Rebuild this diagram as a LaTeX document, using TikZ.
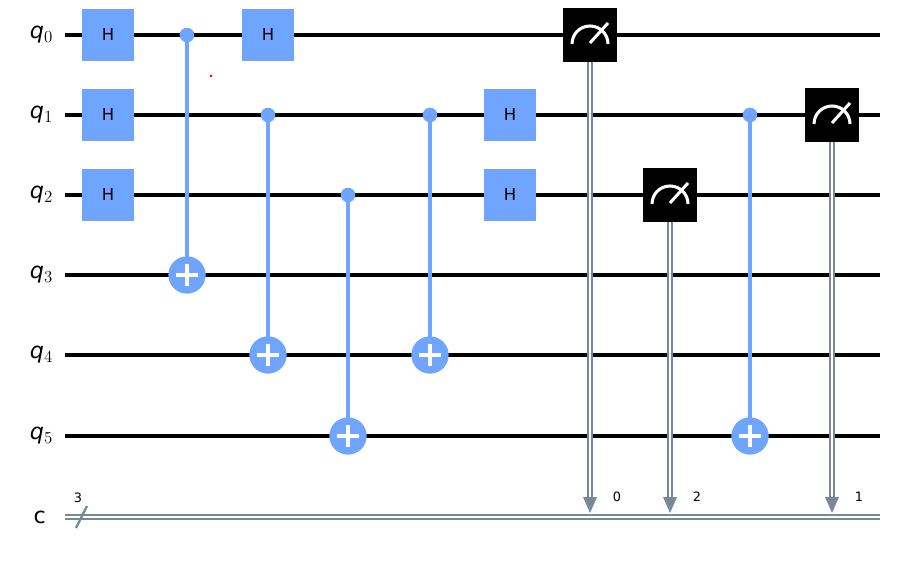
\documentclass[tikz,border=0pt]{standalone}
\usepackage{fontspec}
\setmainfont{DejaVu Sans}
\usetikzlibrary{positioning}
\definecolor{gateblue}{HTML}{6FA4FF}
\definecolor{cgrey}{HTML}{778899}
\tikzstyle{qwire} = [black, line width=2.6pt]
\tikzstyle{hgate} = [fill=gateblue, rectangle, minimum size=1.56cm,
    inner sep=0pt, font=\fontsize{14}{14}\selectfont]
\tikzstyle{meas} = [fill=black, rectangle, minimum size=1.64cm, inner sep=0pt]
\tikzstyle{ctrl} = [fill=gateblue, circle, minimum size=0.44cm, inner sep=0pt]
\tikzstyle{targ} = [fill=gateblue, circle, minimum size=1.12cm, inner sep=0pt,
    path picture={\draw[white, line width=2.8pt]
      ([xshift=-0.34cm]path picture bounding box.center) -- ([xshift=0.34cm]path picture bounding box.center)
      ([yshift=-0.34cm]path picture bounding box.center) -- ([yshift=0.34cm]path picture bounding box.center);}]
\tikzstyle{link} = [gateblue, line width=2.8pt]
\tikzstyle{cwire} = [draw=cgrey, line width=2pt, double=white, double distance=1.8pt]
\tikzstyle{wlabel} = [font=\fontsize{19}{19}\selectfont, anchor=east]
\tikzstyle{bitlabel} = [font=\fontsize{11}{11}\selectfont]

\begin{document}
\begin{tikzpicture}[x=0.03cm, y=-0.03cm]
\useasboundingbox (0,0) rectangle (912,567);

% quantum wires
\foreach \i/\y in {0/35,1/115,2/195,3/275,4/355,5/436}{
  \coordinate (w\i s) at (65,\y);
  \coordinate (w\i e) at (880,\y);
  \draw[qwire] (w\i s) -- (w\i e);
  \node[wlabel] (lab\i) at (57,\y) {\textit{q}$_{\i}$};
}
% classical register
\coordinate (cs) at (65,517);
\coordinate (ce) at (880,517);
\draw[cwire] (cs) -- (ce);
\node[wlabel] (labc) at (50,517) {c};
\draw[cgrey, line width=2pt] (76,528) -- (87,506);
\node[bitlabel] (nreg) at (78,498) {3};

% Hadamard gates
\node[hgate] (h00) at (108,35) {H};
\node[hgate] (h01) at (108,115) {H};
\node[hgate] (h02) at (108,195) {H};
\node[hgate] (h10) at (268,35) {H};
\node[hgate] (h21) at (510,115) {H};
\node[hgate] (h22) at (510,195) {H};

% CNOT gates
\foreach \n/\x/\yc/\yt in {a/187/35/275, b/268/115/355, c/348/195/436,
                            d/430/115/355, e/750/115/436}{
  \draw[link] (\x,\yc) -- (\x,\yt);
  \node[ctrl] (c\n) at (\x,\yc) {};
  \node[targ] (t\n) at (\x,\yt) {};
}

% measurements
\foreach \n/\x/\y/\b in {m0/590/35/0, m2/670/195/2, m1/832/115/1}{
  \coordinate (\n c) at (\x,513);
  \draw[cwire] (\x,\y) -- (\x,499);
  \fill[cgrey] (\x-7,497) -- (\x+7,497) -- (\n c) -- cycle;
  \node[meas] (\n) at (\x,\y) {};
  \draw[white, line width=2.6pt] (\x+18,\y+9) arc (0:-180:18);
  \draw[white, line width=2.6pt] (\x,\y+8) -- (\x+18,\y-12);
  \node[bitlabel] (lb\n) at (\x+27,497) {\b};
}

% stray dot
\fill[red] (211,76) circle (1.5);
\end{tikzpicture}
\end{document}
